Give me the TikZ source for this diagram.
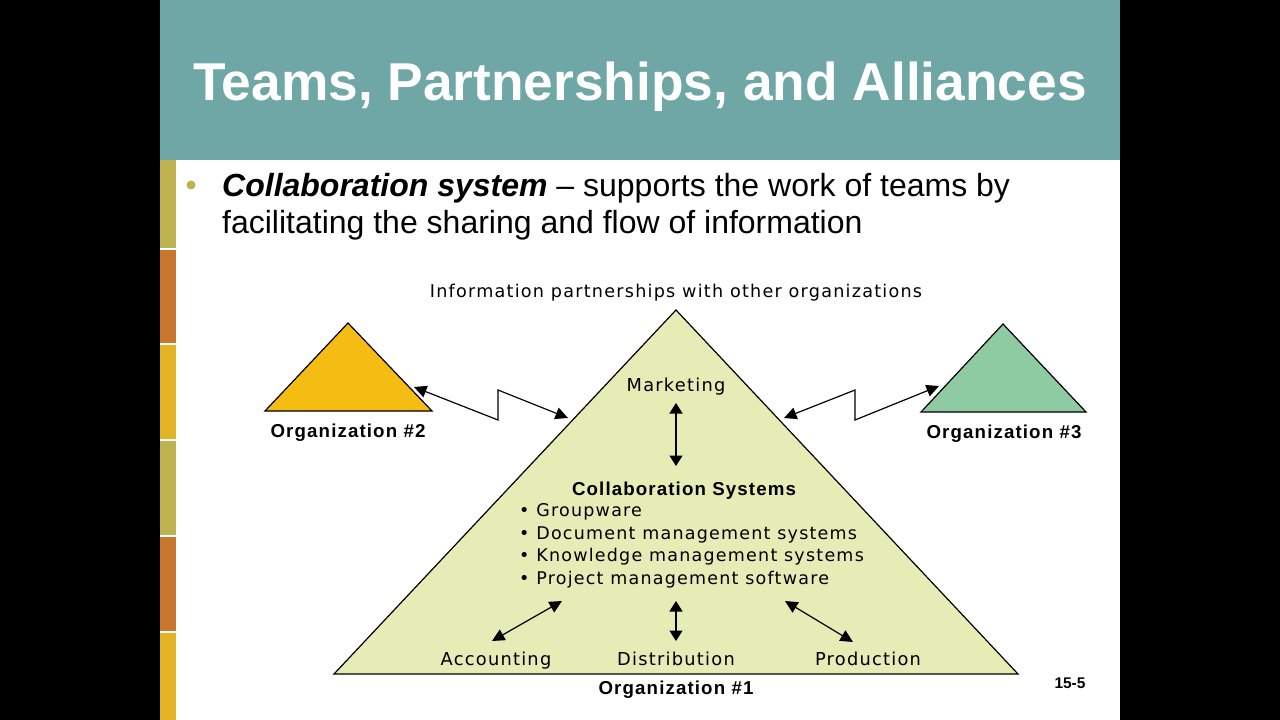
\documentclass[tikz,border=0pt]{standalone}
\usepackage{fontspec}
\setmainfont{Liberation Sans}
\newfontfamily\diagfont[LetterSpace=7]{DejaVu Sans}
\newfontfamily\labfont[LetterSpace=6]{Liberation Sans}
\usetikzlibrary{arrows.meta}
\definecolor{teal1}{HTML}{6FA6A6}
\definecolor{olive1}{HTML}{BDB24F}
\definecolor{orange1}{HTML}{C7782E}
\definecolor{yellow1}{HTML}{E3B425}
\definecolor{mainfill}{HTML}{E5ECB6}
\definecolor{org2fill}{HTML}{F5BC14}
\definecolor{org3fill}{HTML}{8FCBA2}
\tikzset{
  tri/.style={draw=black, line width=1.2pt, line join=miter},
  conn/.style={draw=black, line width=1.2pt, {Triangle[length=12.5pt,width=12pt]}-{Triangle[length=12.5pt,width=12pt]}},
  vconn/.style={draw=black, line width=1.4pt, {Triangle[length=10.5pt,width=13pt]}-{Triangle[length=10.5pt,width=13pt]}},
  dtext/.style={inner sep=0pt, anchor=base, font=\diagfont\fontsize{17.8}{20}\selectfont},
  orglab/.style={inner sep=0pt, anchor=base, font=\labfont\bfseries\fontsize{18.7}{20}\selectfont},
  listitem/.style={inner sep=0pt, anchor=base west, font=\diagfont\fontsize{17.5}{20}\selectfont}
}
\begin{document}
\begin{tikzpicture}[x=1pt,y=-1pt]
\useasboundingbox (0,0) rectangle (1280,720);
\fill[black] (0,0) rectangle (1280,720);
\fill[white] (160,0) rectangle (1120,720);
\fill[teal1] (160,0) rectangle (1120,160);
% left stripe
\fill[olive1] (160,160) rectangle (176,248);
\fill[orange1] (160,250) rectangle (176,343);
\fill[yellow1] (160,345) rectangle (176,439);
\fill[olive1] (160,441) rectangle (176,535);
\fill[orange1] (160,537) rectangle (176,631);
\fill[yellow1] (160,633) rectangle (176,720);
% title
\node[inner sep=0pt, anchor=base, text=white, font=\bfseries\fontsize{53.3}{60}\selectfont] (title) at (640,100) {Teams, Partnerships, and Alliances};
% bullet
\fill[olive1] (191,185) circle (4.5);
\node[inner sep=0pt, anchor=base west, font=\fontsize{32}{37}\selectfont] (line1) at (222,196) {\textbf{\textit{Collaboration system}} -- supports the work of teams by};
\node[inner sep=0pt, anchor=base west, font=\fontsize{32}{37}\selectfont] (line2) at (222,233) {facilitating the sharing and flow of information};
% triangles
\coordinate (A1) at (676,310); \coordinate (B1) at (334,674); \coordinate (C1) at (1018,674);
\coordinate (A2) at (348,323); \coordinate (B2) at (265,411); \coordinate (C2) at (432,411);
\coordinate (A3) at (1003,324); \coordinate (B3) at (921,412); \coordinate (C3) at (1086,412);
\filldraw[tri, fill=mainfill] (A1) -- (B1) -- (C1) -- cycle;
\filldraw[tri, fill=org2fill] (A2) -- (B2) -- (C2) -- cycle;
\filldraw[tri, fill=org3fill] (A3) -- (B3) -- (C3) -- cycle;
% texts
\node[dtext, font=\diagfont\fontsize{17.6}{20}\selectfont] (info) at (676,297) {Information partnerships with other organizations};
\node[dtext] (mkt) at (676,391) {Marketing};
\node[orglab] (collab) at (684,495) {Collaboration Systems};
\node[listitem] (l1) at (519,516) {• Groupware};
\node[listitem] (l2) at (519,539) {• Document management systems};
\node[listitem] (l3) at (519,561) {• Knowledge management systems};
\node[listitem] (l4) at (519,584) {• Project management software};
\node[dtext] (acc) at (496,665) {Accounting};
\node[dtext] (dist) at (676,665) {Distribution};
\node[dtext] (prod) at (868,665) {Production};
\node[orglab] (org1) at (676,694) {Organization \#1};
\node[orglab] (org2) at (348,437) {Organization \#2};
\node[orglab] (org3) at (1004,438) {Organization \#3};
\node[inner sep=0pt, anchor=base, font=\bfseries\fontsize{15.5}{17}\selectfont] (pg) at (1070,688) {15-5};
% connector end points
\coordinate (z2a) at (414,387); \coordinate (z2b) at (568,418);
\coordinate (z3a) at (784,418); \coordinate (z3b) at (939,386);
\coordinate (m1) at (676,403); \coordinate (m2) at (676,466);
\coordinate (a1) at (562,601); \coordinate (a2) at (492,641);
\coordinate (d1) at (676,601); \coordinate (d2) at (676,641);
\coordinate (p1) at (785,601); \coordinate (p2) at (853,642);
% connectors
\draw[conn] (z2a) -- (498,420) -- (498,390) -- (z2b);
\draw[conn] (z3a) -- (855,390) -- (855,420) -- (z3b);
\draw[vconn] (m1) -- (m2);
\draw[conn] (a1) -- (a2);
\draw[vconn] (d1) -- (d2);
\draw[conn] (p1) -- (p2);
\end{tikzpicture}
\end{document}
